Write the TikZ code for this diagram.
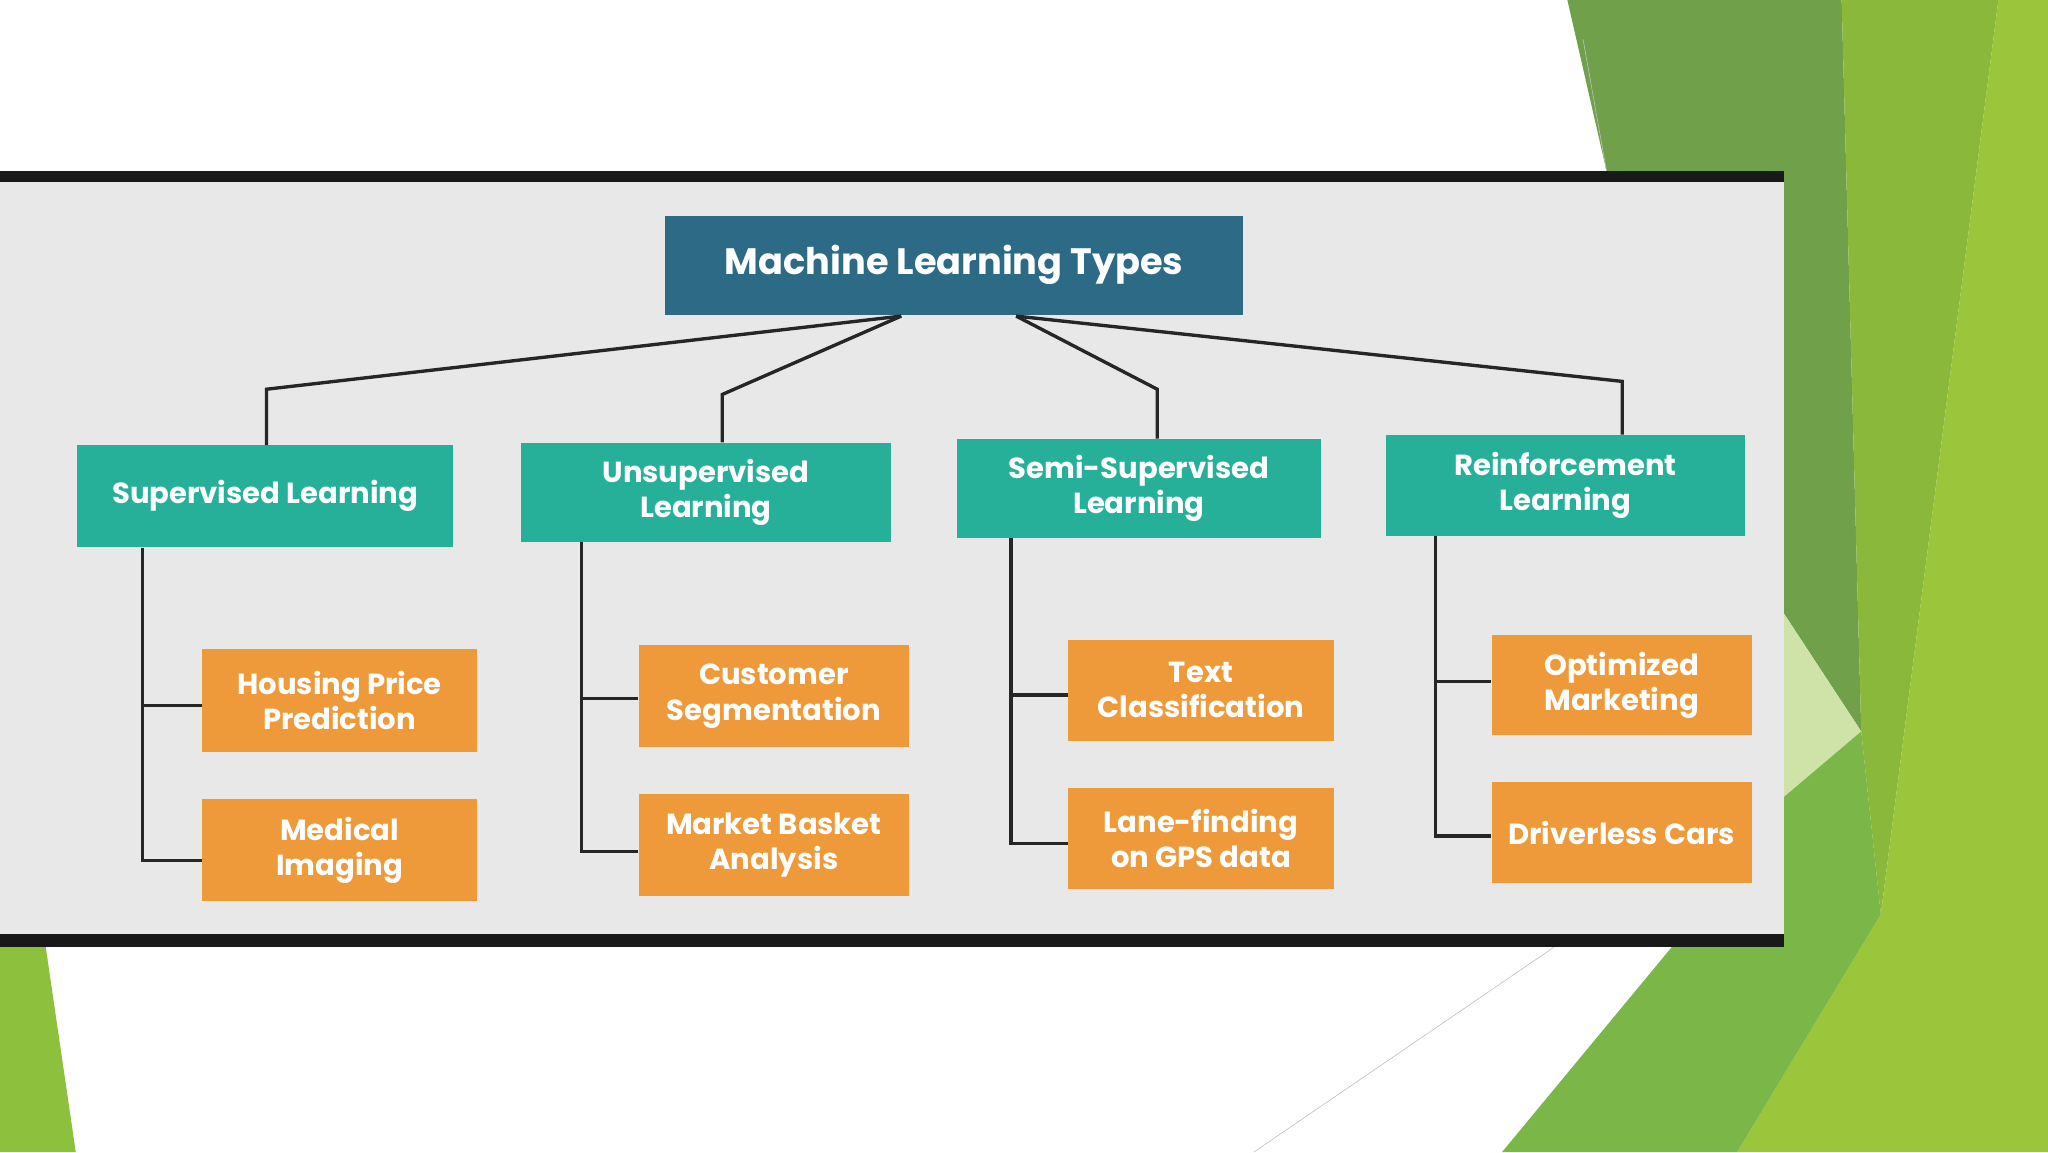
\documentclass[tikz,border=0pt]{standalone}
\usepackage{fontspec}
\setmainfont{Poppins}
\begin{document}
\begin{tikzpicture}[x=0.03cm,y=-0.03cm,
  box/.style={draw=none,inner sep=0pt,align=center,text=white,font=\fontsize{19}{23}\selectfont\bfseries},
  ln/.style={line width=2.2pt,black!85}]
\definecolor{tealc}{HTML}{26B09A}
\definecolor{orc}{HTML}{EE9A3A}
\definecolor{titc}{HTML}{2C6A86}
\useasboundingbox (0,0) rectangle (1568,882);
\fill[white] (0,0) rectangle (1568,882);
% green background shapes
\fill[fill={rgb,255:red,112;green,160;blue,74}] (1200,0)--(1410,0)--(1425,560)--(1366,470)--(1366,131)--(1230,131)--cycle;
\fill[fill={rgb,255:red,138;green,184;blue,58}] (1410,0)--(1530,0)--(1440,700)--(1425,560)--cycle;
\fill[fill={rgb,255:red,155;green,198;blue,60}] (1530,0)--(1568,0)--(1568,882)--(1330,882)--(1440,700)--cycle;
\fill[fill={rgb,255:red,207;green,227;blue,168}] (1366,470)--(1425,560)--(1366,610)--cycle;
\fill[fill={rgb,255:red,122;green,182;blue,72}] (1366,610)--(1425,560)--(1440,700)--(1330,882)--(1150,882)--(1280,725)--(1366,725)--cycle;
\fill[fill={rgb,255:red,141;green,192;blue,60}] (0,725)--(35,725)--(58,882)--(0,882)--cycle;
\draw[black!25,line width=0.4pt] (960,882)--(1190,725);
\draw[black!25,line width=0.4pt] (1212,30)--(1230,131);
% panel
\fill[black!90] (0,131) rectangle (1366,725);
\fill[black!9] (0,139) rectangle (1366,715);
% title
\node[box,fill=titc,minimum width=443*0.03cm,minimum height=76*0.03cm,font=\fontsize{24}{30}\selectfont\bfseries] (t) at (730.5,203) {Machine Learning Types};
% level 2
\node[box,fill=tealc,minimum width=288*0.03cm,minimum height=78*0.03cm] (s) at (203,380) {Supervised Learning};
\node[box,fill=tealc,minimum width=283*0.03cm,minimum height=76*0.03cm] (u) at (540.5,377) {Unsupervised\\Learning};
\node[box,fill=tealc,minimum width=278*0.03cm,minimum height=76*0.03cm] (m) at (872,374) {Semi-Supervised\\Learning};
\node[box,fill=tealc,minimum width=275*0.03cm,minimum height=77*0.03cm] (r) at (1198.5,371.5) {Reinforcement\\Learning};
% leaves
\node[box,fill=orc,minimum width=210*0.03cm,minimum height=79*0.03cm] (a1) at (260,536.5) {Housing Price\\Prediction};
\node[box,fill=orc,minimum width=210*0.03cm,minimum height=78*0.03cm] (a2) at (260,651) {Medical\\Imaging};
\node[box,fill=orc,minimum width=207*0.03cm,minimum height=78*0.03cm] (b1) at (592.5,533) {Customer\\Segmentation};
\node[box,fill=orc,minimum width=207*0.03cm,minimum height=78*0.03cm] (b2) at (592.5,647) {Market Basket\\Analysis};
\node[box,fill=orc,minimum width=203*0.03cm,minimum height=77*0.03cm] (c1) at (919.5,528.5) {Text\\Classification};
\node[box,fill=orc,minimum width=203*0.03cm,minimum height=78*0.03cm] (c2) at (919.5,642) {Lane-finding\\on GPS data};
\node[box,fill=orc,minimum width=199*0.03cm,minimum height=77*0.03cm] (d1) at (1241.5,524.5) {Optimized\\Marketing};
\node[box,fill=orc,minimum width=199*0.03cm,minimum height=77*0.03cm] (d2) at (1241.5,637.5) {Driverless Cars};
% connectors
\coordinate (tl) at (690,242); \coordinate (tr) at (778,242);
\draw[ln] (tl)--(204,298)--(s.north -| 204,0);
\draw[ln] (tl)--(553,302)--(u.north -| 553,0);
\draw[ln] (tr)--(886,298)--(m.north -| 886,0);
\draw[ln] (tr)--(1242,292)--(r.north -| 1242,0);
\draw[ln] (s.south -| 109,0)--(109,659)--(a2.west |- 0,659);
\draw[ln] (109,540)--(a1.west |- 0,540);
\draw[ln] (u.south -| 445,0)--(445,652)--(b2.west |- 0,652);
\draw[ln] (445,535)--(b1.west |- 0,535);
\draw[ln] (m.south -| 774,0)--(774,646)--(c2.west |- 0,646);
\draw[ln] (774,532)--(c1.west |- 0,532);
\draw[ln] (r.south -| 1099,0)--(1099,640)--(d2.west |- 0,640);
\draw[ln] (1099,522)--(d1.west |- 0,522);
\end{tikzpicture}
\end{document}
